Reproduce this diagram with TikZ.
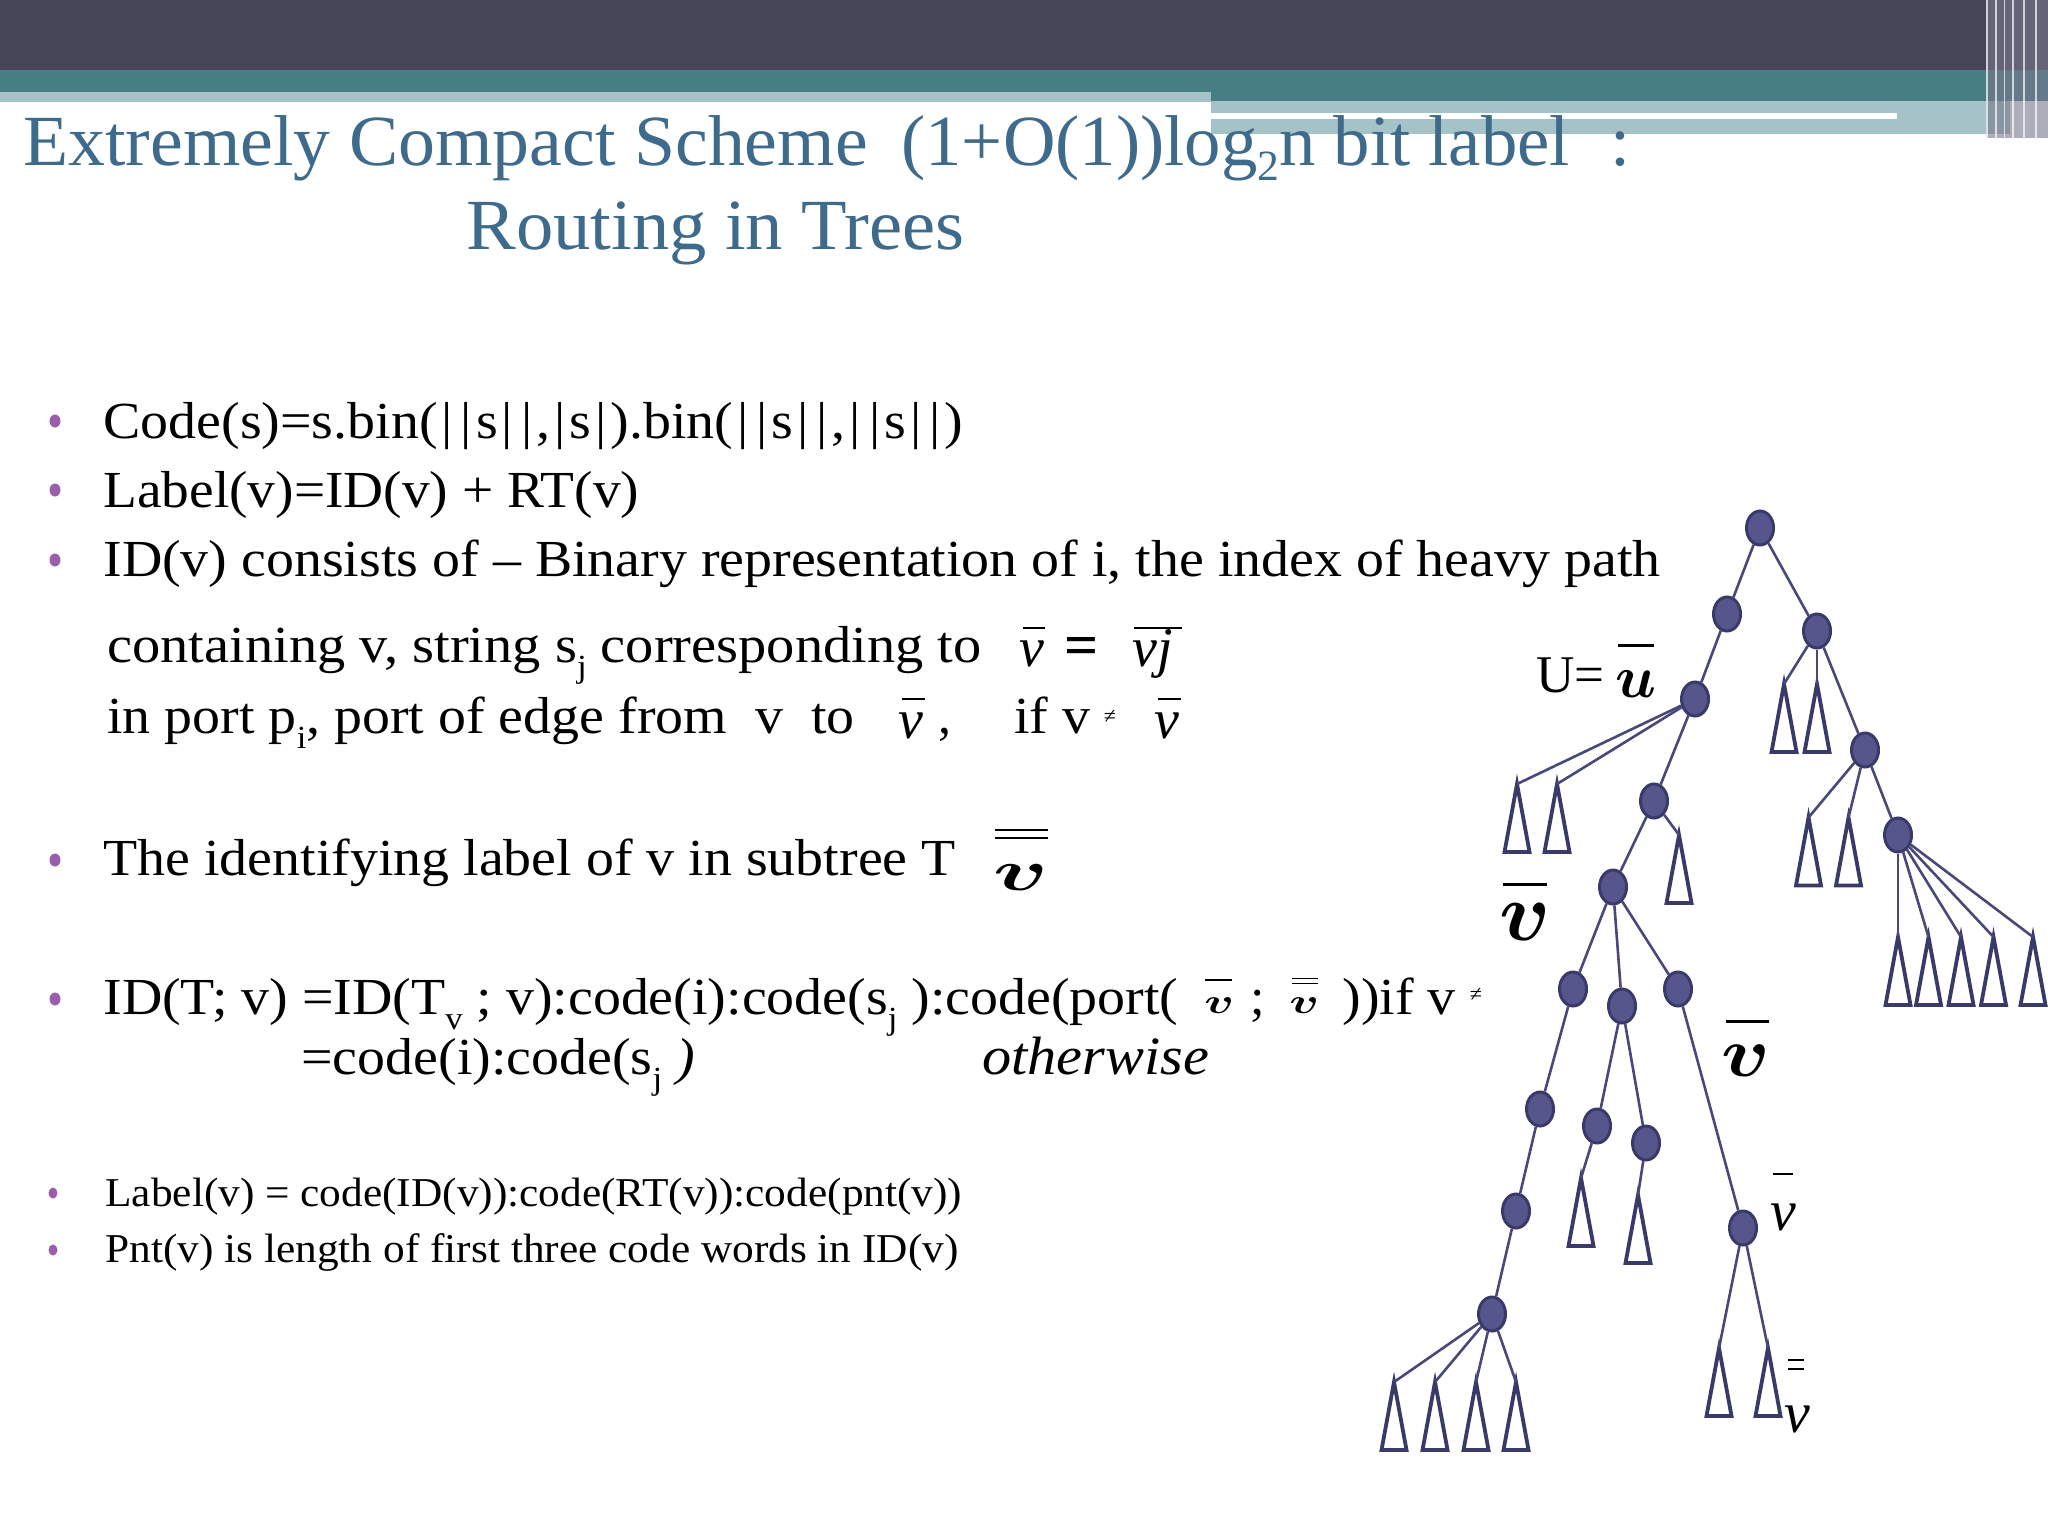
\documentclass[tikz,border=0pt]{standalone}
\usepackage{fontspec}
\setmainfont{Liberation Serif}
\usepackage{bm}
\usetikzlibrary{shapes.geometric}
\definecolor{darkband}{RGB}{70,69,88}
\definecolor{tealband}{RGB}{70,126,132}
\definecolor{lightband}{RGB}{165,194,199}
\definecolor{titleblue}{RGB}{62,106,140}
\definecolor{bulletpurple}{RGB}{155,94,170}
\definecolor{nodefill}{RGB}{86,86,140}
\definecolor{nodeline}{RGB}{58,58,104}
\definecolor{treeline}{RGB}{72,72,122}
\definecolor{stripegray}{RGB}{120,120,140}
\newcommand\fs[1]{\fontsize{#1}{#1}\selectfont}
\newcommand\dn[1]{\raisebox{-0.3em}{\scalebox{0.62}{#1}}}
\newcommand\hs[2]{\scalebox{#1}[1]{#2}}
\newcommand\br{\hspace{0.072em}|\hspace{0.072em}}
% bold math letter at 20pt, scaled by #1 (horizontal) and #2 (vertical)
\newcommand\bmv[3]{{\fs{20}\scalebox{#1}[#2]{$\bm{#3}$}}}
\tikzset{
  tn/.style={ellipse, fill=nodefill, draw=nodeline, line width=1.5pt, minimum width=13.5pt, minimum height=17pt, inner sep=0pt},
  edge/.style={draw=treeline, line width=1.3pt},
  tri/.pic={\draw[draw=nodeline, line width=1.9pt, line join=miter] (0,0) -- (-12.5,68) -- (12.5,68) -- cycle;},
  titletxt/.style={anchor=base west, inner sep=0pt, text=titleblue, font=\fs{36}},
  txt/.style={anchor=base west, inner sep=0pt, font=\fs{26}},
  smalltxt/.style={anchor=base west, inner sep=0pt, font=\fs{20.5}},
  itv/.style={anchor=base west, inner sep=0pt, font=\fs{28}\itshape},
  bul/.style={ellipse, fill=bulletpurple, minimum width=5.5pt, minimum height=6.5pt, inner sep=0pt},
  sbul/.style={ellipse, fill=bulletpurple, minimum width=4.5pt, minimum height=5.5pt, inner sep=0pt},
  barline/.style={draw=black, line width=1pt},
  thinbar/.style={draw=black, line width=0.8pt},
  bbar/.style={draw=black, line width=1.5pt},
}
\begin{document}
\begin{tikzpicture}[x=0.5pt,y=-0.5pt]
\useasboundingbox (0,0) rectangle (2048,1536);
\fill[white] (0,0) rectangle (2048,1536);
% header bands
\fill[darkband] (0,0) rectangle (2048,70);
\fill[tealband] (0,70) rectangle (2048,101);
\fill[lightband] (0,92) rectangle (1211,102);
\fill[lightband] (1211,101) rectangle (2010,134);
\fill[white] (1211,113) rectangle (1897,119);
% right stripes
\fill[stripegray, opacity=0.6] (1986,0) rectangle (2048,138);
\foreach \sx/\sw in {1987/0.6,1996/0.9,2004/0.5,2013/1.0,2024/0.6,2036/0.8}
  \draw[white, opacity=0.7, line width=\sw pt] (\sx,0) -- (\sx,138);
% title
\node[titletxt] (t1) at (23,165) {\hs{1.025}{Extremely Compact Scheme}};
\node[titletxt] (t2) at (901,165) {\hs{1.01}{(1+O(1))log\raisebox{-0.22em}{\scalebox{0.6}{2}}n bit label}};
\node[titletxt] (t3) at (1610,165) {:};
\node[titletxt] (t4) at (466,249) {\hs{1.035}{Routing in Trees}};
% bullets
\node[bul] (b1) at (55,421) {};
\node[bul] (b2) at (55,490) {};
\node[bul] (b3) at (55,560) {};
\node[bul] (b6) at (55,860) {};
\node[bul] (b7) at (55,999) {};
\node[sbul] (b9) at (53,1193) {};
\node[sbul] (b10) at (53,1250) {};
% line 1-3
\node[txt] (l1) at (103,438) {\hs{1.075}{Code(s)=s.bin(\br\br s\br\br,\br s\br).bin(\br\br s\br\br,\br\br s\br\br)}};
\node[txt] (l2) at (103,507) {\hs{1.065}{Label(v)=ID(v) + RT(v)}};
\node[txt] (l3) at (103,576) {\hs{1.075}{ID(v) consists of – Binary representation of i, the index of heavy path}};
% line 4
\node[txt] (l4a) at (107,662) {\hs{1.085}{containing v, string s\dn{j} corresponding to}};
\node[itv] (l4v) at (1019,666) {v};
\draw[barline] (1023,628) -- (1045,628);
\node[anchor=base west, inner sep=0pt, font=\fs{30}\bfseries] (l4eq) at (1064,665) {=};
\node[itv] (l4vj) at (1132,666) {vj};
\draw[barline] (1134,628) -- (1182,628);
% line 5
\node[txt] (l5a) at (107,733) {\hs{1.075}{in port p\dn{i}, port of edge from\ \ v\ \ to}};
\node[itv] (l5v) at (898,738) {v};
\draw[barline] (902,699) -- (925,699);
\node[txt] (l5c) at (938,733) {,};
\node[txt] (l5if) at (1014,733) {\hs{1.075}{if v}};
\node[inner sep=0pt, font=\fs{11}] (l5ne) at (1110,717) {≠};
\node[itv] (l5v2) at (1154,738) {v};
\draw[barline] (1158,699) -- (1181,699);
% line 6
\node[txt] (l6) at (103,875) {\hs{1.075}{The identifying label of v in subtree T}};
\node[anchor=base west, inner sep=0pt] (l6v) at (993,890) {\bmv{2.2}{1.4}{v}};
\draw[barline] (995,830) -- (1048,830);
\draw[barline] (995,838) -- (1048,838);
% line 7
\node[txt] (l7a) at (103,1014) {\hs{1.075}{ID(T; v) =ID(T\dn{v} ; v):code(i):code(s\dn{j} ):code(port(}};
\node[anchor=base west, inner sep=0pt] (l7v1) at (1204,1013) {\bmv{1.19}{0.85}{v}};
\draw[thinbar] (1205,980) -- (1232,980);
\node[txt] (l7s) at (1250,1014) {;};
\node[anchor=base west, inner sep=0pt] (l7v2) at (1289,1013) {\bmv{1.19}{0.85}{v}};
\draw[thinbar] (1292,978.5) -- (1318,978.5);
\draw[thinbar] (1292,983.5) -- (1318,983.5);
\node[txt] (l7b) at (1342,1014) {\hs{1.075}{))if v}};
\node[inner sep=0pt, font=\fs{11}] (l7ne) at (1476,995) {≠};
% line 8
\node[txt] (l8a) at (301,1074) {\hs{1.075}{=code(i):code(s\dn{j} \textit{)}}};
\node[anchor=base west, inner sep=0pt, font=\fs{27}\itshape] (l8b) at (982,1074) {\hs{1.08}{otherwise}};
% lines 9-10
\node[smalltxt] (l9) at (105,1206) {\hs{1.057}{Label(v) = code(ID(v)):code(RT(v)):code(pnt(v))}};
\node[smalltxt] (l10) at (105,1262) {\hs{1.057}{Pnt(v) is length of first three code words in ID(v)}};
% tree coordinates for subtree triangles
\coordinate (tB1) at (1784,684);
\coordinate (tB2) at (1817,684);
\coordinate (tU1) at (1517,784);
\coordinate (tU2) at (1557,784);
\coordinate (tC1) at (1679,835);
\coordinate (tE1) at (1808.5,817.5);
\coordinate (tE2) at (1848.5,817.5);
\coordinate (tF1) at (1898,937);
\coordinate (tF2) at (1928.5,937);
\coordinate (tF3) at (1961,937);
\coordinate (tF4) at (1993.5,937);
\coordinate (tF5) at (2033,937);
\coordinate (tH2) at (1581,1178);
\coordinate (tH3) at (1638,1195);
\coordinate (tJ1) at (1394,1382);
\coordinate (tJ2) at (1435,1382);
\coordinate (tJ3) at (1476,1382);
\coordinate (tJ4) at (1516,1382);
\coordinate (tK1) at (1719,1348);
\coordinate (tK2) at (1768,1348);
\foreach \t in {tB1,tB2,tU1,tU2,tC1,tE1,tE2,tF1,tF2,tF3,tF4,tF5,tH2,tH3,tJ1,tJ2,tJ3,tJ4,tK1,tK2}
  \pic at (\t) {tri};
% tree nodes
\node[tn] (root) at (1760,528) {};
\node[tn] (A) at (1727,614) {};
\node[tn] (B) at (1817,631) {};
\node[tn] (U) at (1695,699) {};
\node[tn] (C) at (1654,801) {};
\node[tn] (D) at (1613,887) {};
\node[tn] (E) at (1865,750) {};
\node[tn] (F) at (1898,835) {};
\node[tn] (G1) at (1573,989) {};
\node[tn] (G2) at (1622,1006) {};
\node[tn] (G3) at (1678,989) {};
\node[tn] (H1) at (1540,1109) {};
\node[tn] (H2) at (1597,1126) {};
\node[tn] (H3) at (1646,1143) {};
\node[tn] (I1) at (1516,1211) {};
\node[tn] (J) at (1492,1314) {};
\node[tn] (K) at (1743,1228) {};
% tree edges
\draw[edge] (root) -- (A);
\draw[edge] (root) -- (B);
\draw[edge] (A) -- (U);
\draw[edge] (B) -- (tB1);
\draw[edge] (B) -- (tB2);
\draw[edge] (B) -- (E);
\draw[edge] (U) -- (tU1);
\draw[edge] (U) -- (tU2);
\draw[edge] (U) -- (C);
\draw[edge] (C) -- (tC1);
\draw[edge] (C) -- (D);
\draw[edge] (E) -- (tE1);
\draw[edge] (E) -- (tE2);
\draw[edge] (E) -- (F);
\foreach \t in {tF1,tF2,tF3,tF4,tF5} \draw[edge] (F) -- (\t);
\draw[edge] (D) -- (G1);
\draw[edge] (D) -- (G2);
\draw[edge] (D) -- (G3);
\draw[edge] (G1) -- (H1);
\draw[edge] (H1) -- (I1);
\draw[edge] (I1) -- (J);
\foreach \t in {tJ1,tJ2,tJ3,tJ4} \draw[edge] (J) -- (\t);
\draw[edge] (G2) -- (H2);
\draw[edge] (G2) -- (H3);
\draw[edge] (H2) -- (tH2);
\draw[edge] (H3) -- (tH3);
\draw[edge] (G3) -- (K);
\draw[edge] (K) -- (tK1);
\draw[edge] (K) -- (tK2);
% tree labels
\node[anchor=base west, inner sep=0pt, font=\fs{26.5}] (lU) at (1536,692) {U=};
\node[anchor=base west, inner sep=0pt] (lu) at (1615,697) {\bmv{1.45}{1.45}{u}};
\draw[bbar] (1618,645) -- (1654,645);
\node[anchor=base west, inner sep=0pt] (lvD) at (1499,940) {\bmv{2.05}{2}{v}};
\draw[bbar] (1503,884) -- (1547,884);
\node[anchor=base west, inner sep=0pt] (lvG) at (1721,1076) {\bmv{1.95}{1.7}{v}};
\draw[bbar] (1726,1021) -- (1769,1021);
\node[anchor=base west, inner sep=0pt, font=\fs{29}\itshape] (lvK) at (1770,1230) {v};
\draw[barline] (1773,1174) -- (1793,1174);
\node[anchor=base west, inner sep=0pt, font=\fs{29}\itshape] (lvT) at (1784,1432) {v};
\draw[barline] (1788,1360) -- (1804,1360);
\draw[barline] (1788,1369) -- (1804,1369);
\end{tikzpicture}
\end{document}
